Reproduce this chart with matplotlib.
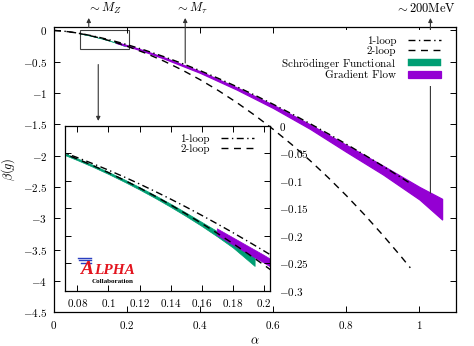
import matplotlib
matplotlib.use("Agg")
import matplotlib.pyplot as plt
from matplotlib.ticker import FuncFormatter, MultipleLocator
from matplotlib.patches import Rectangle

plt.rcParams['font.family'] = ['cmr10', 'DejaVu Serif']
plt.rcParams['mathtext.fontset'] = 'cm'
plt.rcParams['axes.formatter.use_mathtext'] = True
plt.rcParams['font.size'] = 8

# perturbative curves, beta(g) against alpha (Nf = 3)
alpha = [0.0, 0.02, 0.04, 0.06, 0.07, 0.08, 0.09, 0.10, 0.11, 0.12, 0.13, 0.14,
         0.15, 0.16, 0.17, 0.18, 0.19, 0.20, 0.21, 0.25, 0.30, 0.35, 0.40, 0.45,
         0.50, 0.55, 0.60, 0.65, 0.70, 0.75, 0.80, 0.85, 0.90, 0.95, 0.975]
beta_1loop = [0.0, -0.0072, -0.0203, -0.0373, -0.0470, -0.0575, -0.0686, -0.0803,
              -0.0926, -0.1055, -0.1190, -0.1330, -0.1475, -0.1625, -0.1780,
              -0.1939, -0.2103, -0.2271, -0.2443, -0.3173, -0.4172, -0.5257,
              -0.6423, -0.7664, -0.8976, -1.0355, -1.1799, -1.3304, -1.4868,
              -1.6489, -1.8166, -1.9895, -2.1676, -2.3507, -2.4441]
beta_2loop = [0.0, -0.0073, -0.0208, -0.0386, -0.0489, -0.0601, -0.0720, -0.0848,
              -0.0984, -0.1127, -0.1277, -0.1435, -0.1600, -0.1772, -0.1951,
              -0.2136, -0.2329, -0.2528, -0.2733, -0.3622, -0.4880, -0.6298,
              -0.7876, -0.9615, -1.1515, -1.3578, -1.5805, -1.8198, -2.0758,
              -2.3488, -2.6389, -2.9464, -3.2715, -3.6144, -3.7926]

# Schroedinger functional band
sf_alpha = [0.072, 0.08, 0.09, 0.10, 0.11, 0.12, 0.13, 0.14, 0.15, 0.16, 0.17, 0.18, 0.194]
sf_upper = [-0.0500, -0.0590, -0.0708, -0.0836, -0.0970, -0.1112, -0.1260, -0.1415,
            -0.1578, -0.1746, -0.1915, -0.2090, -0.2350]
sf_lower = [-0.0530, -0.0622, -0.0744, -0.0874, -0.1012, -0.1157, -0.1310, -0.1472,
            -0.1642, -0.1820, -0.2010, -0.2210, -0.2545]

# gradient flow band
gf_alpha = [0.17, 0.18, 0.19, 0.20, 0.21, 0.25, 0.30, 0.40, 0.50, 0.60, 0.70,
            0.80, 0.90, 1.00, 1.062]
gf_upper = [-0.187, -0.203, -0.219, -0.235, -0.252, -0.326, -0.428, -0.653,
            -0.910, -1.190, -1.500, -1.830, -2.160, -2.500, -2.690]
gf_lower = [-0.199, -0.216, -0.233, -0.249, -0.266, -0.343, -0.447, -0.678,
            -0.945, -1.240, -1.570, -1.940, -2.300, -2.700, -3.020]

# scale markers: (label, alpha of arrow, beta of arrow tail, label x)
scales = [(r'$\sim M_Z$', 0.095, 0.05, 0.09),
          (r'$\sim M_\tau$', 0.359, -0.52, 0.331),
          (r'$\sim 200\mathrm{MeV}$', 1.03, -2.60, 0.932)]

GREEN = '#009e73'
PURPLE = '#9400d3'
DASHDOT = (0, (5, 2.5, 1, 2.5))
DASHED = (0, (5, 4))
SF_LABEL = r'Schr$\ddot{\mathrm{o}}$dinger Functional'


def fmt(v, pos):
    v = round(v, 6)
    if v == 0:
        return '$0$'
    return f'${v:g}$'


def style_axes(ax):
    ax.tick_params(which='both', direction='in', top=True, right=True,
                   length=4, width=0.7, labelsize=8)
    for s in ax.spines.values():
        s.set_linewidth(0.9)
    ax.xaxis.set_major_formatter(FuncFormatter(fmt))
    ax.yaxis.set_major_formatter(FuncFormatter(fmt))


fig = plt.figure(figsize=(4.74, 3.46), dpi=100)
ax = fig.add_axes([0.114, 0.098, 0.848, 0.823])

ax.plot(alpha, beta_1loop, color='k', lw=1.0, linestyle=DASHDOT, label='1-loop')
ax.plot(alpha, beta_2loop, color='k', lw=1.0, linestyle=DASHED, label='2-loop')
ax.fill_between(sf_alpha, sf_upper, sf_lower, color=GREEN, lw=0.3, label=SF_LABEL)
ax.fill_between(gf_alpha, gf_upper, gf_lower, color=PURPLE, lw=0.9,
                label='Gradient Flow')

ax.set_xlim(0, 1.1)
ax.set_ylim(-4.5, 0.05)
ax.xaxis.set_major_locator(MultipleLocator(0.2))
ax.yaxis.set_major_locator(MultipleLocator(0.5))
style_axes(ax)
ax.tick_params(axis='x', pad=5)
ax.tick_params(axis='y', pad=5)
ax.set_xlabel(r'$\alpha$', fontsize=9, labelpad=3)
ax.set_ylabel(r'$\beta(g)$', fontsize=9, labelpad=4)

# zoom window shown in the inset
ax.add_patch(Rectangle((0.072, -0.3), 0.132, 0.3, fill=False, ec='0.25', lw=0.8))
ax.annotate('', xy=(0.121, -1.49), xytext=(0.121, -0.5),
            arrowprops=dict(arrowstyle='-|>', color='0.2', lw=0.8, mutation_scale=6))

for text, xa, ytail, xt in scales:
    ax.annotate('', xy=(xa, 0.2), xytext=(xa, ytail), annotation_clip=False,
                arrowprops=dict(arrowstyle='-|>', color='0.2', lw=0.8,
                                mutation_scale=6, shrinkA=0, shrinkB=0))
    ax.text(xt, 0.35, text, ha='left', va='center', fontsize=9, clip_on=False)

leg = ax.legend(loc='upper right', bbox_to_anchor=(0.99, 1.01), markerfirst=False,
                frameon=True, fancybox=False, framealpha=1, edgecolor='none',
                facecolor='white', fontsize=8, handlelength=3.0, handleheight=0.6,
                labelspacing=0.0, borderpad=0.5, handletextpad=1.0)
leg.set_zorder(10)

# inset
ins = fig.add_axes([0.137, 0.159, 0.433, 0.477])
ins.set_facecolor('white')
ins.plot(alpha, beta_1loop, color='k', lw=1.0, linestyle=DASHDOT, label='1-loop')
ins.plot(alpha, beta_2loop, color='k', lw=1.0, linestyle=DASHED, label='2-loop')
ins.fill_between(sf_alpha, sf_upper, sf_lower, color=GREEN, lw=0.5)
ins.fill_between(gf_alpha, gf_upper, gf_lower, color=PURPLE, lw=0.5)
ins.set_xlim(0.072, 0.204)
ins.set_ylim(-0.3, 0)
ins.xaxis.set_major_locator(MultipleLocator(0.02))
ins.yaxis.set_major_locator(MultipleLocator(0.05))
style_axes(ins)
ins.tick_params(axis='y', labelleft=False, labelright=True, pad=6)
ins.tick_params(axis='x', pad=4)
ileg = ins.legend(loc='upper right', bbox_to_anchor=(0.97, 1.01), markerfirst=False,
                  frameon=False, fontsize=8, handlelength=3.0, labelspacing=0.0,
                  handletextpad=1.0)

# ALPHA collaboration logo
for yy, x0 in [(0.200, 0.064), (0.185, 0.070), (0.170, 0.076)]:
    ins.plot([x0, 0.128], [yy, yy], color='#2a3fc0', lw=1.0, transform=ins.transAxes)
ins.text(0.073, 0.102, 'A', color='#e3141e', fontsize=14, fontweight='bold',
         fontstyle='italic', family='Liberation Serif', transform=ins.transAxes)
ins.text(0.141, 0.102, 'LPHA', color='#e3141e', fontsize=11, fontweight='bold',
         fontstyle='italic', family='Liberation Serif', transform=ins.transAxes)
ins.text(0.234, 0.055, 'Collaboration', color='k', fontsize=5, fontweight='bold',
         family='Liberation Serif', ha='center', va='center', transform=ins.transAxes)

fig.savefig('out.png', dpi=100)
